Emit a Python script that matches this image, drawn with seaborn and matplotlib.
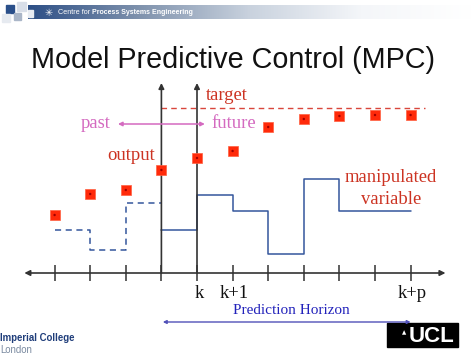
import numpy as np
import pandas as pd
import matplotlib
matplotlib.use("Agg")
import matplotlib.pyplot as plt
import seaborn as sns
from matplotlib.patches import Rectangle

# ---------------- data ----------------
output_t = [-4, -3, -2, -1, 0, 1, 2, 3, 4, 5, 6]
output_y = [5.8, 7.9, 8.3, 10.3, 11.5, 12.2, 14.6, 15.4, 15.7, 15.8, 15.8]
target_level = 16.5
mv_past_t = [-4, -3, -2, -1]
mv_past_u = [4.3, 2.3, 7.0, 7.0]
mv_future_t = [-1, 0, 1, 2, 3, 4, 5, 6]
mv_future_u = [4.3, 7.8, 6.2, 1.9, 9.4, 6.2, 6.2, 6.2]
steps = [-4, -3, -2, -1, 0, 1, 2, 3, 4, 5, 6]
tick_label_steps = [0, 1, 6]
tick_label_text = ["k", "k+1", "k+p"]

sns.set_theme(style="white")
plt.rcParams['font.family'] = ['Liberation Serif', 'DejaVu Serif']

fig = plt.figure(figsize=(4.74, 3.55), dpi=100)
fig.patch.set_facecolor("white")

# decoration axes in pixel coordinates
deco = fig.add_axes([0, 0, 1, 1])
deco.set_xlim(0, 474)
deco.set_ylim(355, 0)
deco.axis("off")

# header gradient bar
grad = np.linspace(0, 1, 256)[None, :]
cmap = matplotlib.colors.LinearSegmentedColormap.from_list(
    "hdr", ["#2d4f86", "#7f92ad", "#c9d2de", "#f4f6f9", "#ffffff"])
deco.imshow(grad, extent=(28, 472, 19, 5), aspect="auto", cmap=cmap, zorder=1)
deco.add_patch(Rectangle((6, 5), 8, 8, color="#2a4f8a", zorder=2))
deco.add_patch(Rectangle((17, 2), 9, 9, color="#d8dee8", zorder=2))
deco.add_patch(Rectangle((14, 13), 7, 7, color="#aab6c8", zorder=2))
deco.add_patch(Rectangle((2, 14), 8, 8, color="#e6eaf0", zorder=2))
deco.add_patch(Rectangle((28, 10), 5, 7, color="#e8ecf2", zorder=2))
deco.text(49, 12.5, "\u2733", color="white", fontsize=7, ha="center", va="center",
          family=["DejaVu Sans"], zorder=3)
deco.text(58, 12.5, "Centre for", color="white", fontsize=5.2, ha="left", va="center",
          family=["Liberation Sans"], zorder=3)
deco.text(92, 12.5, "Process Systems Engineering", color="white", fontsize=5.0,
          ha="left", va="center", family=["Liberation Sans"], fontweight="bold", zorder=3)

# title
deco.text(233, 60, "Model Predictive Control (MPC)", fontsize=20.7, ha="center",
          va="center", family=["Liberation Sans"], color="#111111")

# logos
deco.text(0, 338, "Imperial College", fontsize=6.9, ha="left", va="center",
          family=["Liberation Sans"], fontweight="bold", color="#1f3d7a")
deco.text(0, 350, "London", fontsize=6.9, ha="left", va="center",
          family=["Liberation Sans"], color="#7a8aa0")
deco.add_patch(Rectangle((387, 323), 71, 24, color="black", zorder=2))
deco.text(432, 336, "UCL", fontsize=16, ha="center", va="center", color="white",
          family=["Liberation Sans"], fontweight="bold", zorder=3)
deco.text(404, 333, "\u25b2", fontsize=4, ha="center", va="center", color="white",
          family=["DejaVu Sans"], zorder=3)

# ---------------- data axes ----------------
ax = fig.add_axes([0, 0, 1, 1])
ax.patch.set_alpha(0)

axis_col = "#333333"
blue = "#34569c"
red_txt = "#cc3322"
pink = "#d46ac0"

# time axis
ax.annotate("", xy=(-4.85, 0), xytext=(6.98, 0),
            arrowprops=dict(arrowstyle="<|-|>", color=axis_col, lw=1.2,
                            mutation_scale=8, shrinkA=0, shrinkB=0))
ax.vlines(steps, -0.8, 0.8, color=axis_col, lw=1.1)
for t0 in [-1, 0]:
    ax.annotate("", xy=(t0, 19.0), xytext=(t0, 0),
                arrowprops=dict(arrowstyle="-|>", color=axis_col, lw=1.2,
                                mutation_scale=8, shrinkA=0, shrinkB=0))

# target
ax.hlines(target_level, -1, 6.4, colors="#d9463c", lw=1.0, linestyles=(0, (4, 3)))

# manipulated variable
past = pd.DataFrame({"t": mv_past_t, "u": mv_past_u})
fut = pd.DataFrame({"t": mv_future_t, "u": mv_future_u})
sns.lineplot(data=past, x="t", y="u", ax=ax, color=blue, lw=1.1,
             drawstyle="steps-post", linestyle=(0, (4, 3)), estimator=None)
sns.lineplot(data=fut, x="t", y="u", ax=ax, color=blue, lw=1.1,
             drawstyle="steps-post", estimator=None)

# outputs
out = pd.DataFrame({"t": output_t, "y": output_y})
sns.scatterplot(data=out, x="t", y="y", ax=ax, marker="s", s=50,
                color="#ff2a0a", edgecolor="#ff6040", linewidth=0.5, zorder=5)
sns.scatterplot(data=out, x="t", y="y", ax=ax, marker="o", s=3,
                color="#a00000", edgecolor="none", zorder=6)
ax.set_xlim(-197 / 35.6, (474 - 197) / 35.6)
ax.set_ylim(-8.2, 27.3)
ax.axis("off")

# past / future arrow
ax.annotate("", xy=(-2.22, 14.9), xytext=(0.22, 14.9),
            arrowprops=dict(arrowstyle="<|-|>", color=pink, lw=1.1,
                            mutation_scale=6, shrinkA=0, shrinkB=0))
fs = 13.4
ax.text(-2.44, 14.9, "past", color=pink, fontsize=fs, ha="right", va="center")
ax.text(0.42, 14.9, "future", color=pink, fontsize=fs, ha="left", va="center")
ax.text(0.84, 17.8, "target", color=red_txt, fontsize=fs, ha="center", va="center")
ax.text(-1.85, 11.8, "output", color=red_txt, fontsize=fs, ha="center", va="center")
ax.text(5.45, 9.5, "manipulated", color=red_txt, fontsize=fs, ha="center", va="center")
ax.text(5.45, 7.4, "variable", color=red_txt, fontsize=fs, ha="center", va="center")

for t0, lab in zip(tick_label_steps, tick_label_text):
    ax.text(t0 + 0.05, -2.0, lab, color="#111111", fontsize=fs, ha="center", va="center")

# prediction horizon
ax.text(2.64, -3.8, "Prediction Horizon", color="#2222bb", fontsize=11,
        ha="center", va="center")
ax.annotate("", xy=(-0.96, -4.9), xytext=(6.0, -4.9),
            arrowprops=dict(arrowstyle="<|-|>", color="#5050b8", lw=1.0,
                            mutation_scale=5, shrinkA=0, shrinkB=0))

fig.savefig("out.png", dpi=100)
